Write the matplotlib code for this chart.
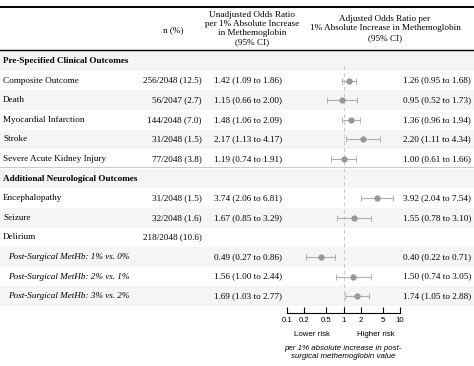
import matplotlib
matplotlib.use("Agg")
import matplotlib.pyplot as plt
import numpy as np

# ---------------- data ----------------
row_labels = ["Pre-Specified Clinical Outcomes", "Composite Outcome", "Death",
              "Myocardial Infarction", "Stroke", "Severe Acute Kidney Injury",
              "Additional Neurological Outcomes", "Encephalopathy", "Seizure", "Delirium",
              "Post-Surgical MetHb: 1% vs. 0%", "Post-Surgical MetHb: 2% vs. 1%",
              "Post-Surgical MetHb: 3% vs. 2%"]
row_kind = ["header", "item", "item", "item", "item", "item",
            "header", "item", "item", "item", "sub", "sub", "sub"]
n_pct = ["", "256/2048 (12.5)", "56/2047 (2.7)", "144/2048 (7.0)", "31/2048 (1.5)",
         "77/2048 (3.8)", "", "31/2048 (1.5)", "32/2048 (1.6)", "218/2048 (10.6)",
         "", "", ""]
unadj_or = [None, 1.42, 1.15, 1.48, 2.17, 1.19, None, 3.74, 1.67, None, 0.49, 1.56, 1.69]
unadj_lo = [None, 1.09, 0.66, 1.06, 1.13, 0.74, None, 2.06, 0.85, None, 0.27, 1.00, 1.03]
unadj_hi = [None, 1.86, 2.00, 2.09, 4.17, 1.91, None, 6.81, 3.29, None, 0.86, 2.44, 2.77]
adj_or = [None, 1.26, 0.95, 1.36, 2.20, 1.00, None, 3.92, 1.55, None, 0.40, 1.50, 1.74]
adj_lo = [None, 0.95, 0.52, 0.96, 1.11, 0.61, None, 2.04, 0.78, None, 0.22, 0.74, 1.05]
adj_hi = [None, 1.68, 1.73, 1.94, 4.34, 1.66, None, 7.54, 3.10, None, 0.71, 3.05, 2.88]
xticks = [0.1, 0.2, 0.5, 1, 2, 5, 10]
xtick_labels = ["0.1", "0.2", "0.5", "1", "2", "5", "10"]

# ---------------- layout ----------------
W, H = 474, 366
fig = plt.figure(figsize=(W / 100, H / 100), dpi=100)
ax = fig.add_axes([0, 0, 1, 1])
ax.set_xlim(0, W)
ax.set_ylim(H, 0)
ax.axis("off")

serif = ["Liberation Serif", "DejaVu Serif"]
sans = ["Liberation Sans", "DejaVu Sans"]
fs = 6.6
y0, dy = 61, 19.6
row_y = [y0 + dy * i for i in range(len(row_labels))]

# row shading
for i, y in enumerate(row_y):
    if i % 2 == 0:
        ax.add_patch(plt.Rectangle((0, y - dy / 2), W, dy, color="#f5f5f5", lw=0, zorder=0))

# lines
ax.plot([0, W], [7, 7], color="black", lw=1.4, zorder=2)
ax.plot([0, W], [49.5, 49.5], color="black", lw=1.0, zorder=2)
ax.plot([0, W], [167, 167], color="#c8c8c8", lw=0.7, zorder=2)

# headers
ax.text(173, 30, "n (%)", ha="center", va="center", family=serif, fontsize=fs)
ax.text(252, 28.5, "Unadjusted Odds Ratio\nper 1% Absolute Increase\nin Methemoglobin\n(95% CI)",
        ha="center", va="center", family=serif, fontsize=fs, linespacing=1.22)
ax.text(385, 28.5, "Adjusted Odds Ratio per\n1% Absolute Increase in Methemoglobin\n(95% CI)",
        ha="center", va="center", family=serif, fontsize=fs, linespacing=1.28)

# rows
for i, y in enumerate(row_y):
    kind = row_kind[i]
    if kind == "header":
        ax.text(3, y, row_labels[i], ha="left", va="center", family=serif,
                fontsize=fs, fontweight="bold")
    elif kind == "sub":
        ax.text(8, y, row_labels[i], ha="left", va="center", family=serif,
                fontsize=fs, style="italic")
    else:
        ax.text(3, y, row_labels[i], ha="left", va="center", family=serif, fontsize=fs)
    if n_pct[i]:
        ax.text(202, y, n_pct[i], ha="right", va="center", family=serif, fontsize=fs)
    if unadj_or[i] is not None:
        ax.text(214, y, f"{unadj_or[i]:.2f} ({unadj_lo[i]:.2f} to {unadj_hi[i]:.2f})",
                ha="left", va="center", family=serif, fontsize=fs)
    if adj_or[i] is not None:
        ax.text(471, y, f"{adj_or[i]:.2f} ({adj_lo[i]:.2f} to {adj_hi[i]:.2f})",
                ha="right", va="center", family=serif, fontsize=fs)

# ---------------- forest axes ----------------
x_left, x_right, y_top, y_bot = 287, 400, 49.5, 313
fax = fig.add_axes([x_left / W, (H - y_bot) / H, (x_right - x_left) / W, (y_bot - y_top) / H])
fax.patch.set_alpha(0)
fax.set_xscale("log")
fax.set_xlim(0.1, 10)
fax.set_ylim(y_bot, y_top)
for s in ["top", "right", "left"]:
    fax.spines[s].set_visible(False)
fax.spines["bottom"].set_linewidth(0.8)
fax.set_yticks([])
fax.set_xticks(xticks)
fax.set_xticklabels(xtick_labels, family=sans, fontsize=5.6)
fax.minorticks_off()
fax.tick_params(axis="x", direction="in", length=4, width=0.8, pad=3)

fax.plot([1, 1], [row_y[0] + 5, y_bot], color="#c8c8c8", lw=0.7, ls=(0, (4, 3)), zorder=1)
for i, y in enumerate(row_y):
    if adj_or[i] is None:
        continue
    fax.errorbar([adj_or[i]], [y],
                 xerr=[[adj_or[i] - adj_lo[i]], [adj_hi[i] - adj_or[i]]],
                 fmt="o", color="#8f9c97", ecolor="#a9b0ad", elinewidth=0.8,
                 capsize=2, capthick=0.7, markersize=3.5, zorder=3)

# footer
ax.text(312, 335, "Lower risk", ha="center", va="center", family=sans, fontsize=5.7)
ax.text(376, 335, "Higher risk", ha="center", va="center", family=sans, fontsize=5.7)
ax.text(343, 352, "per 1% absolute increase in post-\nsurgical methemoglobin value",
        ha="center", va="center", family=sans, fontsize=5.7, style="italic", linespacing=1.2)

fig.savefig("out.png", dpi=100)
